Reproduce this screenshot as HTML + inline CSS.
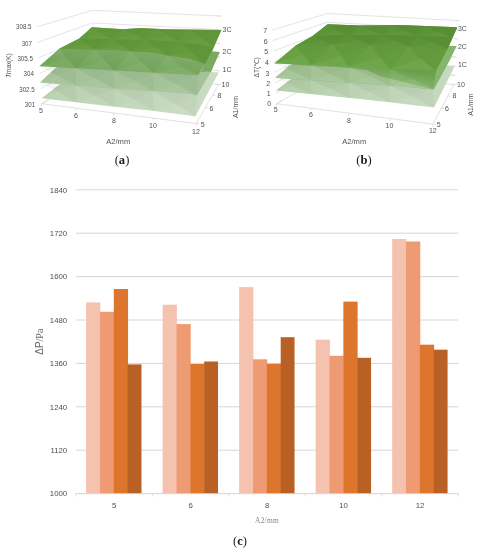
<!DOCTYPE html>
<html><head><meta charset="utf-8"><title>Figure</title>
<style>html,body{margin:0;padding:0;background:#fff}svg{display:block}text{font-family:"Liberation Sans","DejaVu Sans","Noto Sans CJK SC",sans-serif;fill:#505050}.ser{font-family:"Liberation Serif",serif}.cap{font-family:"Liberation Serif",serif;fill:#1a1a1a;font-size:12.6px}</style></head><body>
<svg width="479" height="550" viewBox="0 0 479 550">
<rect width="479" height="550" fill="#fff"/>
<defs><linearGradient id="gw" gradientUnits="userSpaceOnUse" x1="402" y1="69" x2="398" y2="90"><stop offset="0" stop-color="#6fa64f"/><stop offset="1" stop-color="#95be83"/></linearGradient><linearGradient id="gB" gradientUnits="userSpaceOnUse" x1="120" y1="50" x2="117" y2="71"><stop offset="0" stop-color="#82b06c"/><stop offset="1" stop-color="#72a558"/></linearGradient><linearGradient id="gD" gradientUnits="userSpaceOnUse" x1="40" y1="100" x2="215" y2="100"><stop offset="0" stop-color="#b7d0ad"/><stop offset="1" stop-color="#c9dcc4"/></linearGradient><linearGradient id="gD2" gradientUnits="userSpaceOnUse" x1="275" y1="100" x2="452" y2="100"><stop offset="0" stop-color="#b2cda7"/><stop offset="1" stop-color="#c6dac0"/></linearGradient></defs>
<g>
<polyline points="36.5,26.9 92.4,10.3 220.3,16.0" fill="none" stroke="#d9d9d9" stroke-width="0.7"/>
<line x1="216.8" y1="16.0" x2="221.3" y2="16.0" stroke="#d9d9d9" stroke-width="0.7"/>
<polyline points="37.6,42.3 92.4,22.9 220.0,29.7" fill="none" stroke="#d9d9d9" stroke-width="0.7"/>
<line x1="216.5" y1="29.7" x2="221.0" y2="29.7" stroke="#d9d9d9" stroke-width="0.7"/>
<polyline points="38.7,57.7 92.4,35.5 219.6,43.4" fill="none" stroke="#d9d9d9" stroke-width="0.7"/>
<line x1="216.1" y1="43.4" x2="220.6" y2="43.4" stroke="#d9d9d9" stroke-width="0.7"/>
<polyline points="39.8,73.2 92.4,48.1 219.3,57.0" fill="none" stroke="#d9d9d9" stroke-width="0.7"/>
<line x1="215.8" y1="57.0" x2="220.3" y2="57.0" stroke="#d9d9d9" stroke-width="0.7"/>
<polyline points="40.9,88.6 92.4,60.7 218.9,70.7" fill="none" stroke="#d9d9d9" stroke-width="0.7"/>
<line x1="215.4" y1="70.7" x2="219.9" y2="70.7" stroke="#d9d9d9" stroke-width="0.7"/>
<polyline points="42.0,104.0 92.4,73.3 218.6,84.4" fill="none" stroke="#d9d9d9" stroke-width="0.7"/>
<line x1="215.1" y1="84.4" x2="219.6" y2="84.4" stroke="#d9d9d9" stroke-width="0.7"/>
<polyline points="48.0,99.5 41.7,103.7 196.0,123.6 218.6,84.4" fill="none" stroke="#d9d9d9" stroke-width="0.8"/>
<line x1="41.7" y1="103.7" x2="41.2" y2="106.2" stroke="#d9d9d9" stroke-width="0.8"/>
<line x1="75.9" y1="108.1" x2="75.5" y2="110.6" stroke="#d9d9d9" stroke-width="0.8"/>
<line x1="114.0" y1="112.9" x2="113.7" y2="115.4" stroke="#d9d9d9" stroke-width="0.8"/>
<line x1="153.6" y1="117.9" x2="153.4" y2="120.4" stroke="#d9d9d9" stroke-width="0.8"/>
<line x1="196.4" y1="123.4" x2="196.4" y2="125.9" stroke="#d9d9d9" stroke-width="0.8"/>
<line x1="196.4" y1="123.4" x2="199.4" y2="123.4" stroke="#d9d9d9" stroke-width="0.8"/>
<line x1="205.2" y1="107.8" x2="208.2" y2="107.8" stroke="#d9d9d9" stroke-width="0.8"/>
<line x1="212.4" y1="95.3" x2="215.4" y2="95.3" stroke="#d9d9d9" stroke-width="0.8"/>
<line x1="218.3" y1="84.4" x2="221.8" y2="84.4" stroke="#d9d9d9" stroke-width="0.8"/>
<polygon points="41.6,98.2 57.5,86.0 93.0,62.0 150.0,68.0 218.8,72.5 195.3,116.4 190.0,115.5 150.0,110.4 110.0,106.2" fill="url(#gD)"/>
<polygon points="40.0,82.5 55.0,68.3 75.0,58.0 200.7,71.3 210.7,71.9 197.0,95.6 190.0,94.2 150.0,90.9 110.0,88.4" fill="#a3c297"/>
<polygon points="219.8,52.0 211.0,72.0 200.7,71.6 198.8,75.0 205.0,64.0 212.0,51.3" fill="#79aa60"/>
<polygon points="39.2,66.3 59.2,48.7 79.2,38.4 91.8,27.3 123.4,29.2 140.0,28.0 165.0,29.2 221.4,30.0 212.0,51.3 205.0,64.4 198.0,75.0 190.0,74.7 150.0,72.5 110.0,70.3" fill="url(#gB)"/>
<polygon points="59.2,48.7 79.2,38.4 91.8,27.3 123.4,29.2 140.0,28.0 165.0,29.2 221.4,30.0 212.0,51.3 205.0,64.4 190.0,59.2 150.0,52.5 110.0,50.0" fill="#62993a"/>
<polygon points="91.8,27.3 124.0,29.2 101.8,33.5" fill="#000" fill-opacity="0.024"/>
<polygon points="79.2,38.4 112.0,39.2 101.8,33.5" fill="#fff" fill-opacity="0.039"/>
<polygon points="91.8,27.3 79.2,38.4 101.8,33.5" fill="#fff" fill-opacity="0.012"/>
<polygon points="124.0,29.2 112.0,39.2 101.8,33.5" fill="#000" fill-opacity="0.015"/>
<polygon points="124.0,29.2 156.0,28.5 134.2,34.2" fill="#000" fill-opacity="0.024"/>
<polygon points="112.0,39.2 145.0,39.7 134.2,34.2" fill="#fff" fill-opacity="0.039"/>
<polygon points="124.0,29.2 112.0,39.2 134.2,34.2" fill="#fff" fill-opacity="0.012"/>
<polygon points="156.0,28.5 145.0,39.7 134.2,34.2" fill="#000" fill-opacity="0.015"/>
<polygon points="156.0,28.5 188.5,29.4 167.1,34.9" fill="#000" fill-opacity="0.024"/>
<polygon points="145.0,39.7 179.0,42.0 167.1,34.9" fill="#fff" fill-opacity="0.039"/>
<polygon points="156.0,28.5 145.0,39.7 167.1,34.9" fill="#fff" fill-opacity="0.012"/>
<polygon points="188.5,29.4 179.0,42.0 167.1,34.9" fill="#000" fill-opacity="0.015"/>
<polygon points="188.5,29.4 221.4,30.0 200.6,37.1" fill="#000" fill-opacity="0.024"/>
<polygon points="179.0,42.0 213.5,47.0 200.6,37.1" fill="#fff" fill-opacity="0.039"/>
<polygon points="188.5,29.4 179.0,42.0 200.6,37.1" fill="#fff" fill-opacity="0.012"/>
<polygon points="221.4,30.0 213.5,47.0 200.6,37.1" fill="#000" fill-opacity="0.015"/>
<polygon points="79.2,38.4 112.0,39.2 86.3,44.0" fill="#000" fill-opacity="0.024"/>
<polygon points="59.2,48.7 95.0,49.6 86.3,44.0" fill="#fff" fill-opacity="0.039"/>
<polygon points="79.2,38.4 59.2,48.7 86.3,44.0" fill="#fff" fill-opacity="0.012"/>
<polygon points="112.0,39.2 95.0,49.6 86.3,44.0" fill="#000" fill-opacity="0.015"/>
<polygon points="112.0,39.2 145.0,39.7 120.8,45.0" fill="#000" fill-opacity="0.024"/>
<polygon points="95.0,49.6 131.0,51.3 120.8,45.0" fill="#fff" fill-opacity="0.039"/>
<polygon points="112.0,39.2 95.0,49.6 120.8,45.0" fill="#fff" fill-opacity="0.012"/>
<polygon points="145.0,39.7 131.0,51.3 120.8,45.0" fill="#000" fill-opacity="0.015"/>
<polygon points="145.0,39.7 179.0,42.0 155.8,47.1" fill="#000" fill-opacity="0.024"/>
<polygon points="131.0,51.3 168.0,55.5 155.8,47.1" fill="#fff" fill-opacity="0.039"/>
<polygon points="145.0,39.7 131.0,51.3 155.8,47.1" fill="#fff" fill-opacity="0.012"/>
<polygon points="179.0,42.0 168.0,55.5 155.8,47.1" fill="#000" fill-opacity="0.015"/>
<polygon points="179.0,42.0 213.5,47.0 191.4,52.2" fill="#000" fill-opacity="0.024"/>
<polygon points="168.0,55.5 205.0,64.4 191.4,52.2" fill="#fff" fill-opacity="0.039"/>
<polygon points="179.0,42.0 168.0,55.5 191.4,52.2" fill="#fff" fill-opacity="0.012"/>
<polygon points="213.5,47.0 205.0,64.4 191.4,52.2" fill="#000" fill-opacity="0.015"/>
<polygon points="59.2,48.7 95.0,49.6 67.3,58.3" fill="#000" fill-opacity="0.040"/>
<polygon points="39.2,66.3 76.0,68.4 67.3,58.3" fill="#fff" fill-opacity="0.065"/>
<polygon points="59.2,48.7 39.2,66.3 67.3,58.3" fill="#fff" fill-opacity="0.020"/>
<polygon points="95.0,49.6 76.0,68.4 67.3,58.3" fill="#000" fill-opacity="0.025"/>
<polygon points="95.0,49.6 131.0,51.3 104.0,60.0" fill="#000" fill-opacity="0.040"/>
<polygon points="76.0,68.4 114.0,70.5 104.0,60.0" fill="#fff" fill-opacity="0.065"/>
<polygon points="95.0,49.6 76.0,68.4 104.0,60.0" fill="#fff" fill-opacity="0.020"/>
<polygon points="131.0,51.3 114.0,70.5 104.0,60.0" fill="#000" fill-opacity="0.025"/>
<polygon points="131.0,51.3 168.0,55.5 141.6,62.5" fill="#000" fill-opacity="0.040"/>
<polygon points="114.0,70.5 153.5,72.7 141.6,62.5" fill="#fff" fill-opacity="0.065"/>
<polygon points="131.0,51.3 114.0,70.5 141.6,62.5" fill="#fff" fill-opacity="0.020"/>
<polygon points="168.0,55.5 153.5,72.7 141.6,62.5" fill="#000" fill-opacity="0.025"/>
<polygon points="168.0,55.5 205.0,64.4 181.1,66.9" fill="#000" fill-opacity="0.040"/>
<polygon points="153.5,72.7 198.0,75.0 181.1,66.9" fill="#fff" fill-opacity="0.065"/>
<polygon points="168.0,55.5 153.5,72.7 181.1,66.9" fill="#fff" fill-opacity="0.020"/>
<polygon points="205.0,64.4 198.0,75.0 181.1,66.9" fill="#000" fill-opacity="0.025"/>
<polygon points="39.2,66.3 76.0,68.4 57.8,75.7" fill="#000" fill-opacity="0.040"/>
<polygon points="40.0,82.5 76.0,85.5 57.8,75.7" fill="#fff" fill-opacity="0.065"/>
<polygon points="39.2,66.3 40.0,82.5 57.8,75.7" fill="#fff" fill-opacity="0.020"/>
<polygon points="76.0,68.4 76.0,85.5 57.8,75.7" fill="#000" fill-opacity="0.025"/>
<polygon points="76.0,68.4 114.0,70.5 95.0,78.3" fill="#000" fill-opacity="0.040"/>
<polygon points="76.0,85.5 114.0,88.7 95.0,78.3" fill="#fff" fill-opacity="0.065"/>
<polygon points="76.0,68.4 76.0,85.5 95.0,78.3" fill="#fff" fill-opacity="0.020"/>
<polygon points="114.0,70.5 114.0,88.7 95.0,78.3" fill="#000" fill-opacity="0.025"/>
<polygon points="114.0,70.5 153.5,72.7 133.8,80.8" fill="#000" fill-opacity="0.040"/>
<polygon points="114.0,88.7 153.5,91.2 133.8,80.8" fill="#fff" fill-opacity="0.065"/>
<polygon points="114.0,70.5 114.0,88.7 133.8,80.8" fill="#fff" fill-opacity="0.020"/>
<polygon points="153.5,72.7 153.5,91.2 133.8,80.8" fill="#000" fill-opacity="0.025"/>
<polygon points="153.5,72.7 198.0,75.0 175.5,83.6" fill="#000" fill-opacity="0.040"/>
<polygon points="153.5,91.2 197.0,95.6 175.5,83.6" fill="#fff" fill-opacity="0.065"/>
<polygon points="153.5,72.7 153.5,91.2 175.5,83.6" fill="#fff" fill-opacity="0.020"/>
<polygon points="198.0,75.0 197.0,95.6 175.5,83.6" fill="#000" fill-opacity="0.025"/>
<polygon points="40.0,82.5 76.0,85.5 58.4,92.1" fill="#000" fill-opacity="0.040"/>
<polygon points="41.6,98.2 76.0,102.2 58.4,92.1" fill="#fff" fill-opacity="0.065"/>
<polygon points="40.0,82.5 41.6,98.2 58.4,92.1" fill="#fff" fill-opacity="0.020"/>
<polygon points="76.0,85.5 76.0,102.2 58.4,92.1" fill="#000" fill-opacity="0.025"/>
<polygon points="76.0,85.5 114.0,88.7 95.0,95.8" fill="#000" fill-opacity="0.040"/>
<polygon points="76.0,102.2 114.0,106.7 95.0,95.8" fill="#fff" fill-opacity="0.065"/>
<polygon points="76.0,85.5 76.0,102.2 95.0,95.8" fill="#fff" fill-opacity="0.020"/>
<polygon points="114.0,88.7 114.0,106.7 95.0,95.8" fill="#000" fill-opacity="0.025"/>
<polygon points="114.0,88.7 153.5,91.2 133.8,99.4" fill="#000" fill-opacity="0.040"/>
<polygon points="114.0,106.7 153.5,110.9 133.8,99.4" fill="#fff" fill-opacity="0.065"/>
<polygon points="114.0,88.7 114.0,106.7 133.8,99.4" fill="#fff" fill-opacity="0.020"/>
<polygon points="153.5,91.2 153.5,110.9 133.8,99.4" fill="#000" fill-opacity="0.025"/>
<polygon points="153.5,91.2 197.0,95.6 174.8,103.5" fill="#000" fill-opacity="0.040"/>
<polygon points="153.5,110.9 195.3,116.4 174.8,103.5" fill="#fff" fill-opacity="0.065"/>
<polygon points="153.5,91.2 153.5,110.9 174.8,103.5" fill="#fff" fill-opacity="0.020"/>
<polygon points="197.0,95.6 195.3,116.4 174.8,103.5" fill="#000" fill-opacity="0.025"/>
<text x="16.0" y="29.3" font-size="7.2" textLength="15.5" lengthAdjust="spacingAndGlyphs">308.5</text>
<text x="21.7" y="45.6" font-size="7.2" textLength="10.3" lengthAdjust="spacingAndGlyphs">307</text>
<text x="17.4" y="61" font-size="7.2" textLength="15.5" lengthAdjust="spacingAndGlyphs">305.5</text>
<text x="23.6" y="76.2" font-size="7.2" textLength="10.3" lengthAdjust="spacingAndGlyphs">304</text>
<text x="19.2" y="91.5" font-size="7.2" textLength="15.5" lengthAdjust="spacingAndGlyphs">302.5</text>
<text x="24.8" y="106.5" font-size="7.2" textLength="10.3" lengthAdjust="spacingAndGlyphs">301</text>
<text x="38.9" y="113.1" font-size="7.2" textLength="3.9" lengthAdjust="spacingAndGlyphs">5</text>
<text x="74.0" y="117.7" font-size="7.2" textLength="3.9" lengthAdjust="spacingAndGlyphs">6</text>
<text x="112.1" y="122.5" font-size="7.2" textLength="3.9" lengthAdjust="spacingAndGlyphs">8</text>
<text x="149.1" y="127.6" font-size="7.2" textLength="7.8" lengthAdjust="spacingAndGlyphs">10</text>
<text x="192.1" y="133.6" font-size="7.2" textLength="7.8" lengthAdjust="spacingAndGlyphs">12</text>
<text x="222.6" y="32.4" font-size="7.2" textLength="8.9" lengthAdjust="spacingAndGlyphs">3C</text>
<text x="222.6" y="53.7" font-size="7.2" textLength="8.9" lengthAdjust="spacingAndGlyphs">2C</text>
<text x="222.6" y="72.3" font-size="7.2" textLength="8.9" lengthAdjust="spacingAndGlyphs">1C</text>
<text x="221.6" y="87" font-size="7.2" textLength="7.8" lengthAdjust="spacingAndGlyphs">10</text>
<text x="217.4" y="97.9" font-size="7.2" textLength="3.9" lengthAdjust="spacingAndGlyphs">8</text>
<text x="209.6" y="110.6" font-size="7.2" textLength="3.9" lengthAdjust="spacingAndGlyphs">6</text>
<text x="200.7" y="126.6" font-size="7.2" textLength="3.9" lengthAdjust="spacingAndGlyphs">5</text>
<text x="106.3" y="144.3" font-size="7.2" textLength="23.9" lengthAdjust="spacingAndGlyphs">A2/mm</text>
<text transform="translate(11.1,65.6) rotate(-90)" font-size="6.4" text-anchor="middle"><tspan font-style="italic">Tmax</tspan>(K)</text>
<text transform="translate(238.2,107) rotate(-90)" font-size="7" text-anchor="middle">A1/mm</text>
<text class="cap" x="122" y="164" text-anchor="middle">(<tspan font-weight="bold">a</tspan>)</text>
</g>
<g>
<polyline points="271.9,30.1 327.4,13.5 458.5,20.6" fill="none" stroke="#d9d9d9" stroke-width="0.7"/>
<line x1="455.0" y1="20.6" x2="459.5" y2="20.6" stroke="#d9d9d9" stroke-width="0.7"/>
<polyline points="272.6,40.6 327.4,22.2 457.8,29.7" fill="none" stroke="#d9d9d9" stroke-width="0.7"/>
<line x1="454.3" y1="29.7" x2="458.8" y2="29.7" stroke="#d9d9d9" stroke-width="0.7"/>
<polyline points="273.3,51.1 327.4,30.9 457.2,38.8" fill="none" stroke="#d9d9d9" stroke-width="0.7"/>
<line x1="453.7" y1="38.8" x2="458.2" y2="38.8" stroke="#d9d9d9" stroke-width="0.7"/>
<polyline points="274.0,61.6 327.4,39.6 456.5,47.9" fill="none" stroke="#d9d9d9" stroke-width="0.7"/>
<line x1="453.0" y1="47.9" x2="457.5" y2="47.9" stroke="#d9d9d9" stroke-width="0.7"/>
<polyline points="274.6,72.2 327.4,48.3 455.8,57.1" fill="none" stroke="#d9d9d9" stroke-width="0.7"/>
<line x1="452.3" y1="57.1" x2="456.8" y2="57.1" stroke="#d9d9d9" stroke-width="0.7"/>
<polyline points="275.3,82.7 327.4,57.0 455.1,66.2" fill="none" stroke="#d9d9d9" stroke-width="0.7"/>
<line x1="451.6" y1="66.2" x2="456.1" y2="66.2" stroke="#d9d9d9" stroke-width="0.7"/>
<polyline points="276.0,93.2 327.4,65.7 454.5,75.3" fill="none" stroke="#d9d9d9" stroke-width="0.7"/>
<line x1="451.0" y1="75.3" x2="455.5" y2="75.3" stroke="#d9d9d9" stroke-width="0.7"/>
<polyline points="276.7,103.7 327.4,74.4 453.8,84.4" fill="none" stroke="#d9d9d9" stroke-width="0.7"/>
<line x1="450.3" y1="84.4" x2="454.8" y2="84.4" stroke="#d9d9d9" stroke-width="0.7"/>
<polyline points="283.0,99.5 276.7,103.7 433.0,124.2 453.8,84.4" fill="none" stroke="#d9d9d9" stroke-width="0.8"/>
<line x1="276.7" y1="103.7" x2="276.2" y2="106.2" stroke="#d9d9d9" stroke-width="0.8"/>
<line x1="311.0" y1="108.2" x2="310.6" y2="110.7" stroke="#d9d9d9" stroke-width="0.8"/>
<line x1="349.0" y1="113.2" x2="348.7" y2="115.7" stroke="#d9d9d9" stroke-width="0.8"/>
<line x1="390.0" y1="118.5" x2="389.8" y2="121.0" stroke="#d9d9d9" stroke-width="0.8"/>
<line x1="433.0" y1="124.2" x2="433.0" y2="126.7" stroke="#d9d9d9" stroke-width="0.8"/>
<line x1="433.0" y1="124.2" x2="436.0" y2="124.2" stroke="#d9d9d9" stroke-width="0.8"/>
<line x1="441.3" y1="108.4" x2="444.3" y2="108.4" stroke="#d9d9d9" stroke-width="0.8"/>
<line x1="447.8" y1="96.0" x2="450.8" y2="96.0" stroke="#d9d9d9" stroke-width="0.8"/>
<line x1="453.8" y1="84.4" x2="457.3" y2="84.4" stroke="#d9d9d9" stroke-width="0.8"/>
<polygon points="275.8,90.6 295.0,76.0 327.0,60.0 400.0,64.0 454.7,66.3 434.0,107.4 400.0,103.5 360.0,99.0 320.0,95.0" fill="url(#gD2)"/>
<polygon points="275.2,77.7 295.0,62.0 327.0,45.0 456.3,46.3 449.7,60.0 433.6,89.4 400.0,86.3 360.0,83.5 320.0,80.9" fill="url(#gw)"/>
<polygon points="275.2,77.7 290.0,65.0 340.0,67.2 367.0,70.3 380.0,76.3 397.7,80.5 415.0,85.0 433.6,89.4 400.0,86.3 360.0,83.5 320.0,80.9" fill="#a2c393"/>
<polygon points="456.3,46.3 449.7,60.0 433.6,89.4 435.9,70.7 449.0,45.7" fill="#86b56c"/>
<polygon points="274.2,63.4 295.0,45.9 312.6,35.9 327.6,24.2 360.0,25.6 400.0,25.0 457.2,27.3 449.0,45.7 435.9,70.7 400.0,69.5 350.0,66.8" fill="#66a03f"/>
<polygon points="295.0,45.9 312.6,35.9 327.6,24.2 360.0,25.6 400.0,25.0 457.2,27.3 449.0,45.7 447.5,48.5 400.0,46.0 340.0,44.0" fill="#5a9235"/>
<polygon points="327.6,24.2 360.0,25.6 336.8,30.2" fill="#000" fill-opacity="0.024"/>
<polygon points="312.6,35.9 347.0,35.0 336.8,30.2" fill="#fff" fill-opacity="0.039"/>
<polygon points="327.6,24.2 312.6,35.9 336.8,30.2" fill="#fff" fill-opacity="0.012"/>
<polygon points="360.0,25.6 347.0,35.0 336.8,30.2" fill="#000" fill-opacity="0.015"/>
<polygon points="360.0,25.6 392.0,25.1 370.2,30.2" fill="#000" fill-opacity="0.024"/>
<polygon points="347.0,35.0 382.0,35.0 370.2,30.2" fill="#fff" fill-opacity="0.039"/>
<polygon points="360.0,25.6 347.0,35.0 370.2,30.2" fill="#fff" fill-opacity="0.012"/>
<polygon points="392.0,25.1 382.0,35.0 370.2,30.2" fill="#000" fill-opacity="0.015"/>
<polygon points="392.0,25.1 424.5,26.0 403.9,30.5" fill="#000" fill-opacity="0.024"/>
<polygon points="382.0,35.0 417.0,36.0 403.9,30.5" fill="#fff" fill-opacity="0.039"/>
<polygon points="392.0,25.1 382.0,35.0 403.9,30.5" fill="#fff" fill-opacity="0.012"/>
<polygon points="424.5,26.0 417.0,36.0 403.9,30.5" fill="#000" fill-opacity="0.015"/>
<polygon points="424.5,26.0 457.2,27.3 437.8,31.7" fill="#000" fill-opacity="0.024"/>
<polygon points="417.0,36.0 452.6,37.5 437.8,31.7" fill="#fff" fill-opacity="0.039"/>
<polygon points="424.5,26.0 417.0,36.0 437.8,31.7" fill="#fff" fill-opacity="0.012"/>
<polygon points="457.2,27.3 452.6,37.5 437.8,31.7" fill="#000" fill-opacity="0.015"/>
<polygon points="312.6,35.9 347.0,35.0 321.9,40.3" fill="#000" fill-opacity="0.024"/>
<polygon points="295.0,45.9 333.0,44.3 321.9,40.3" fill="#fff" fill-opacity="0.039"/>
<polygon points="312.6,35.9 295.0,45.9 321.9,40.3" fill="#fff" fill-opacity="0.012"/>
<polygon points="347.0,35.0 333.0,44.3 321.9,40.3" fill="#000" fill-opacity="0.015"/>
<polygon points="347.0,35.0 382.0,35.0 358.2,39.8" fill="#000" fill-opacity="0.024"/>
<polygon points="333.0,44.3 371.0,45.0 358.2,39.8" fill="#fff" fill-opacity="0.039"/>
<polygon points="347.0,35.0 333.0,44.3 358.2,39.8" fill="#fff" fill-opacity="0.012"/>
<polygon points="382.0,35.0 371.0,45.0 358.2,39.8" fill="#000" fill-opacity="0.015"/>
<polygon points="382.0,35.0 417.0,36.0 394.8,40.6" fill="#000" fill-opacity="0.024"/>
<polygon points="371.0,45.0 409.0,46.5 394.8,40.6" fill="#fff" fill-opacity="0.039"/>
<polygon points="382.0,35.0 371.0,45.0 394.8,40.6" fill="#fff" fill-opacity="0.012"/>
<polygon points="417.0,36.0 409.0,46.5 394.8,40.6" fill="#000" fill-opacity="0.015"/>
<polygon points="417.0,36.0 452.6,37.5 431.5,42.1" fill="#000" fill-opacity="0.024"/>
<polygon points="409.0,46.5 447.5,48.5 431.5,42.1" fill="#fff" fill-opacity="0.039"/>
<polygon points="417.0,36.0 409.0,46.5 431.5,42.1" fill="#fff" fill-opacity="0.012"/>
<polygon points="452.6,37.5 447.5,48.5 431.5,42.1" fill="#000" fill-opacity="0.015"/>
<polygon points="295.0,45.9 333.0,44.3 303.3,54.6" fill="#000" fill-opacity="0.040"/>
<polygon points="274.2,63.4 311.0,65.0 303.3,54.6" fill="#fff" fill-opacity="0.065"/>
<polygon points="295.0,45.9 274.2,63.4 303.3,54.6" fill="#fff" fill-opacity="0.020"/>
<polygon points="333.0,44.3 311.0,65.0 303.3,54.6" fill="#000" fill-opacity="0.025"/>
<polygon points="333.0,44.3 371.0,45.0 341.0,55.3" fill="#000" fill-opacity="0.040"/>
<polygon points="311.0,65.0 349.0,66.8 341.0,55.3" fill="#fff" fill-opacity="0.065"/>
<polygon points="333.0,44.3 311.0,65.0 341.0,55.3" fill="#fff" fill-opacity="0.020"/>
<polygon points="371.0,45.0 349.0,66.8 341.0,55.3" fill="#000" fill-opacity="0.025"/>
<polygon points="371.0,45.0 409.0,46.5 379.8,56.8" fill="#000" fill-opacity="0.040"/>
<polygon points="349.0,66.8 390.0,69.0 379.8,56.8" fill="#fff" fill-opacity="0.065"/>
<polygon points="371.0,45.0 349.0,66.8 379.8,56.8" fill="#fff" fill-opacity="0.020"/>
<polygon points="409.0,46.5 390.0,69.0 379.8,56.8" fill="#000" fill-opacity="0.025"/>
<polygon points="409.0,46.5 447.5,48.5 420.6,58.7" fill="#000" fill-opacity="0.040"/>
<polygon points="390.0,69.0 435.9,70.7 420.6,58.7" fill="#fff" fill-opacity="0.065"/>
<polygon points="409.0,46.5 390.0,69.0 420.6,58.7" fill="#fff" fill-opacity="0.020"/>
<polygon points="447.5,48.5 435.9,70.7 420.6,58.7" fill="#000" fill-opacity="0.025"/>
<polygon points="274.2,63.4 311.0,65.0 292.9,71.6" fill="#000" fill-opacity="0.040"/>
<polygon points="275.2,77.7 311.0,80.3 292.9,71.6" fill="#fff" fill-opacity="0.065"/>
<polygon points="274.2,63.4 275.2,77.7 292.9,71.6" fill="#fff" fill-opacity="0.020"/>
<polygon points="311.0,65.0 311.0,80.3 292.9,71.6" fill="#000" fill-opacity="0.025"/>
<polygon points="311.0,65.0 349.0,66.8 330.0,73.7" fill="#000" fill-opacity="0.040"/>
<polygon points="311.0,80.3 349.0,82.7 330.0,73.7" fill="#fff" fill-opacity="0.065"/>
<polygon points="311.0,65.0 311.0,80.3 330.0,73.7" fill="#fff" fill-opacity="0.020"/>
<polygon points="349.0,66.8 349.0,82.7 330.0,73.7" fill="#000" fill-opacity="0.025"/>
<polygon points="349.0,66.8 390.0,69.0 369.5,76.0" fill="#000" fill-opacity="0.040"/>
<polygon points="349.0,82.7 390.0,85.6 369.5,76.0" fill="#fff" fill-opacity="0.065"/>
<polygon points="349.0,66.8 349.0,82.7 369.5,76.0" fill="#fff" fill-opacity="0.020"/>
<polygon points="390.0,69.0 390.0,85.6 369.5,76.0" fill="#000" fill-opacity="0.025"/>
<polygon points="390.0,69.0 435.9,70.7 412.4,78.7" fill="#000" fill-opacity="0.040"/>
<polygon points="390.0,85.6 433.6,89.4 412.4,78.7" fill="#fff" fill-opacity="0.065"/>
<polygon points="390.0,69.0 390.0,85.6 412.4,78.7" fill="#fff" fill-opacity="0.020"/>
<polygon points="435.9,70.7 433.6,89.4 412.4,78.7" fill="#000" fill-opacity="0.025"/>
<polygon points="275.2,77.7 311.0,80.3 293.2,85.7" fill="#000" fill-opacity="0.040"/>
<polygon points="275.8,90.6 311.0,94.0 293.2,85.7" fill="#fff" fill-opacity="0.065"/>
<polygon points="275.2,77.7 275.8,90.6 293.2,85.7" fill="#fff" fill-opacity="0.020"/>
<polygon points="311.0,80.3 311.0,94.0 293.2,85.7" fill="#000" fill-opacity="0.025"/>
<polygon points="311.0,80.3 349.0,82.7 330.0,88.7" fill="#000" fill-opacity="0.040"/>
<polygon points="311.0,94.0 349.0,97.8 330.0,88.7" fill="#fff" fill-opacity="0.065"/>
<polygon points="311.0,80.3 311.0,94.0 330.0,88.7" fill="#fff" fill-opacity="0.020"/>
<polygon points="349.0,82.7 349.0,97.8 330.0,88.7" fill="#000" fill-opacity="0.025"/>
<polygon points="349.0,82.7 390.0,85.6 369.5,92.1" fill="#000" fill-opacity="0.040"/>
<polygon points="349.0,97.8 390.0,102.4 369.5,92.1" fill="#fff" fill-opacity="0.065"/>
<polygon points="349.0,82.7 349.0,97.8 369.5,92.1" fill="#fff" fill-opacity="0.020"/>
<polygon points="390.0,85.6 390.0,102.4 369.5,92.1" fill="#000" fill-opacity="0.025"/>
<polygon points="390.0,85.6 433.6,89.4 411.9,96.2" fill="#000" fill-opacity="0.040"/>
<polygon points="390.0,102.4 434.0,107.4 411.9,96.2" fill="#fff" fill-opacity="0.065"/>
<polygon points="390.0,85.6 390.0,102.4 411.9,96.2" fill="#fff" fill-opacity="0.020"/>
<polygon points="433.6,89.4 434.0,107.4 411.9,96.2" fill="#000" fill-opacity="0.025"/>
<text x="263.2" y="33" font-size="7.2" textLength="3.9" lengthAdjust="spacingAndGlyphs">7</text>
<text x="263.8" y="43.7" font-size="7.2" textLength="3.9" lengthAdjust="spacingAndGlyphs">6</text>
<text x="264.3" y="54.3" font-size="7.2" textLength="3.9" lengthAdjust="spacingAndGlyphs">5</text>
<text x="265.1" y="65" font-size="7.2" textLength="3.9" lengthAdjust="spacingAndGlyphs">4</text>
<text x="265.6" y="75.6" font-size="7.2" textLength="3.9" lengthAdjust="spacingAndGlyphs">3</text>
<text x="266.3" y="86" font-size="7.2" textLength="3.9" lengthAdjust="spacingAndGlyphs">2</text>
<text x="266.8" y="96.2" font-size="7.2" textLength="3.9" lengthAdjust="spacingAndGlyphs">1</text>
<text x="267.3" y="106.4" font-size="7.2" textLength="3.9" lengthAdjust="spacingAndGlyphs">0</text>
<text x="273.8" y="112.2" font-size="7.2" textLength="3.9" lengthAdjust="spacingAndGlyphs">5</text>
<text x="309.1" y="117.4" font-size="7.2" textLength="3.9" lengthAdjust="spacingAndGlyphs">6</text>
<text x="347.1" y="122.5" font-size="7.2" textLength="3.9" lengthAdjust="spacingAndGlyphs">8</text>
<text x="385.6" y="128" font-size="7.2" textLength="7.8" lengthAdjust="spacingAndGlyphs">10</text>
<text x="428.9" y="133.3" font-size="7.2" textLength="7.8" lengthAdjust="spacingAndGlyphs">12</text>
<text x="458.0" y="30.6" font-size="7.2" textLength="8.9" lengthAdjust="spacingAndGlyphs">3C</text>
<text x="458.0" y="48.6" font-size="7.2" textLength="8.9" lengthAdjust="spacingAndGlyphs">2C</text>
<text x="458.0" y="66.6" font-size="7.2" textLength="8.9" lengthAdjust="spacingAndGlyphs">1C</text>
<text x="457.1" y="87" font-size="7.2" textLength="7.8" lengthAdjust="spacingAndGlyphs">10</text>
<text x="452.5" y="97.9" font-size="7.2" textLength="3.9" lengthAdjust="spacingAndGlyphs">8</text>
<text x="445.1" y="111.2" font-size="7.2" textLength="3.9" lengthAdjust="spacingAndGlyphs">6</text>
<text x="436.7" y="126.6" font-size="7.2" textLength="3.9" lengthAdjust="spacingAndGlyphs">5</text>
<text x="342.3" y="144.1" font-size="7.2" textLength="23.9" lengthAdjust="spacingAndGlyphs">A2/mm</text>
<text transform="translate(258.9,67.3) rotate(-90)" font-size="6.6" text-anchor="middle">ΔT(℃)</text>
<text transform="translate(473.2,104.6) rotate(-90)" font-size="7" text-anchor="middle">A1/mm</text>
<text class="cap" x="364" y="164" text-anchor="middle">(<tspan font-weight="bold">b</tspan>)</text>
</g>
<g>
<line x1="75.8" y1="189.8" x2="458.4" y2="189.8" stroke="#d6d6d6" stroke-width="1"/>
<text x="67.2" y="192.6" font-size="7.8" text-anchor="end">1840</text>
<line x1="75.8" y1="233.2" x2="458.4" y2="233.2" stroke="#d6d6d6" stroke-width="1"/>
<text x="67.2" y="236.0" font-size="7.8" text-anchor="end">1720</text>
<line x1="75.8" y1="276.6" x2="458.4" y2="276.6" stroke="#d6d6d6" stroke-width="1"/>
<text x="67.2" y="279.4" font-size="7.8" text-anchor="end">1600</text>
<line x1="75.8" y1="320.0" x2="458.4" y2="320.0" stroke="#d6d6d6" stroke-width="1"/>
<text x="67.2" y="322.8" font-size="7.8" text-anchor="end">1480</text>
<line x1="75.8" y1="363.4" x2="458.4" y2="363.4" stroke="#d6d6d6" stroke-width="1"/>
<text x="67.2" y="366.2" font-size="7.8" text-anchor="end">1360</text>
<line x1="75.8" y1="406.8" x2="458.4" y2="406.8" stroke="#d6d6d6" stroke-width="1"/>
<text x="67.2" y="409.6" font-size="7.8" text-anchor="end">1240</text>
<line x1="75.8" y1="450.2" x2="458.4" y2="450.2" stroke="#d6d6d6" stroke-width="1"/>
<text x="67.2" y="453.0" font-size="7.8" text-anchor="end">1120</text>
<line x1="75.8" y1="493.6" x2="458.4" y2="493.6" stroke="#d6d6d6" stroke-width="1"/>
<text x="67.2" y="496.4" font-size="7.8" text-anchor="end">1000</text>
<line x1="75.8" y1="493.6" x2="75.8" y2="496.6" stroke="#d9d9d9" stroke-width="0.8"/>
<line x1="152.3" y1="493.6" x2="152.3" y2="496.6" stroke="#d9d9d9" stroke-width="0.8"/>
<line x1="228.8" y1="493.6" x2="228.8" y2="496.6" stroke="#d9d9d9" stroke-width="0.8"/>
<line x1="305.4" y1="493.6" x2="305.4" y2="496.6" stroke="#d9d9d9" stroke-width="0.8"/>
<line x1="381.9" y1="493.6" x2="381.9" y2="496.6" stroke="#d9d9d9" stroke-width="0.8"/>
<line x1="458.4" y1="493.6" x2="458.4" y2="496.6" stroke="#d9d9d9" stroke-width="0.8"/>
<rect x="86.10" y="302.4" width="14.25" height="191.2" fill="#f5c2b0"/>
<rect x="99.95" y="311.8" width="14.25" height="181.8" fill="#ee9a72"/>
<rect x="113.80" y="289.0" width="14.25" height="204.6" fill="#dd752d"/>
<rect x="127.65" y="364.4" width="13.85" height="129.2" fill="#b96124"/>
<text x="114.1" y="507.9" font-size="7.8" text-anchor="middle">5</text>
<rect x="162.62" y="304.7" width="14.25" height="188.9" fill="#f5c2b0"/>
<rect x="176.47" y="324.1" width="14.25" height="169.5" fill="#ee9a72"/>
<rect x="190.32" y="364.0" width="14.25" height="129.6" fill="#dd752d"/>
<rect x="204.17" y="361.5" width="13.85" height="132.1" fill="#b96124"/>
<text x="190.6" y="507.9" font-size="7.8" text-anchor="middle">6</text>
<rect x="239.14" y="287.1" width="14.25" height="206.5" fill="#f5c2b0"/>
<rect x="252.99" y="359.3" width="14.25" height="134.3" fill="#ee9a72"/>
<rect x="266.84" y="363.8" width="14.25" height="129.8" fill="#dd752d"/>
<rect x="280.69" y="337.2" width="13.85" height="156.4" fill="#b96124"/>
<text x="267.1" y="507.9" font-size="7.8" text-anchor="middle">8</text>
<rect x="315.66" y="339.7" width="14.25" height="153.9" fill="#f5c2b0"/>
<rect x="329.51" y="355.8" width="14.25" height="137.8" fill="#ee9a72"/>
<rect x="343.36" y="301.6" width="14.25" height="192.0" fill="#dd752d"/>
<rect x="357.21" y="357.8" width="13.85" height="135.8" fill="#b96124"/>
<text x="343.6" y="507.9" font-size="7.8" text-anchor="middle">10</text>
<rect x="392.18" y="239.0" width="14.25" height="254.6" fill="#f5c2b0"/>
<rect x="406.03" y="241.5" width="14.25" height="252.1" fill="#ee9a72"/>
<rect x="419.88" y="344.7" width="14.25" height="148.9" fill="#dd752d"/>
<rect x="433.73" y="349.7" width="13.85" height="143.9" fill="#b96124"/>
<text x="420.1" y="507.9" font-size="7.8" text-anchor="middle">12</text>
<line x1="75.8" y1="493.6" x2="458.4" y2="493.6" stroke="#d9d9d9" stroke-width="0.8"/>
<text transform="translate(43,341.7) rotate(-90)" font-size="10" text-anchor="middle" style="fill:#666">ΔP<tspan class="ser">/Pa</tspan></text>
<text class="ser" x="267" y="523.2" font-size="7.4" text-anchor="middle" style="fill:#858585" letter-spacing="0.25">A2/mm</text>
<text class="cap" x="240" y="545" text-anchor="middle">(<tspan font-weight="bold">c</tspan>)</text>
</g>
</svg></body></html>
